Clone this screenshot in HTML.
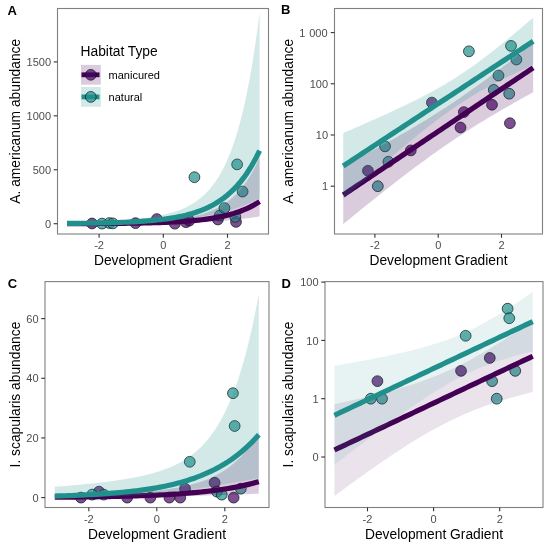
<!DOCTYPE html>
<html><head><meta charset="utf-8"><style>
html,body{margin:0;padding:0;background:#fff;}
svg{display:block;will-change:transform;}
text{font-family:"Liberation Sans",sans-serif;}
.tk{font-size:11px;fill:#4d4d4d;}
.ti{font-size:13.8px;fill:#000;}
.lg{font-size:11px;fill:#000;}
.tag{font-size:13px;font-weight:bold;fill:#000;}
</style></head><body>
<svg width="550" height="546" viewBox="0 0 550 546">
<rect width="550" height="546" fill="#fff"/>
<clipPath id="clA"><rect x="57.50" y="8.50" width="211.00" height="225.50"/></clipPath>
<g clip-path="url(#clA)">
<circle cx="92.04" cy="223.48" r="5.4" fill="rgba(73,2,98,0.7)" stroke="rgba(10,25,25,0.72)" stroke-width="1"/>
<circle cx="135.50" cy="223.16" r="5.4" fill="rgba(73,2,98,0.7)" stroke="rgba(10,25,25,0.72)" stroke-width="1"/>
<circle cx="156.88" cy="219.06" r="5.4" fill="rgba(73,2,98,0.7)" stroke="rgba(10,25,25,0.72)" stroke-width="1"/>
<circle cx="174.86" cy="223.70" r="5.4" fill="rgba(73,2,98,0.7)" stroke="rgba(10,25,25,0.72)" stroke-width="1"/>
<circle cx="185.93" cy="222.19" r="5.4" fill="rgba(73,2,98,0.7)" stroke="rgba(10,25,25,0.72)" stroke-width="1"/>
<circle cx="189.30" cy="220.68" r="5.4" fill="rgba(73,2,98,0.7)" stroke="rgba(10,25,25,0.72)" stroke-width="1"/>
<circle cx="217.87" cy="219.49" r="5.4" fill="rgba(73,2,98,0.7)" stroke="rgba(10,25,25,0.72)" stroke-width="1"/>
<circle cx="236.01" cy="221.87" r="5.4" fill="rgba(73,2,98,0.7)" stroke="rgba(10,25,25,0.72)" stroke-width="1"/>
<circle cx="102.05" cy="223.59" r="5.4" fill="rgba(33,144,140,0.7)" stroke="rgba(10,25,25,0.72)" stroke-width="1"/>
<circle cx="109.37" cy="223.05" r="5.4" fill="rgba(33,144,140,0.7)" stroke="rgba(10,25,25,0.72)" stroke-width="1"/>
<circle cx="112.81" cy="223.38" r="5.4" fill="rgba(33,144,140,0.7)" stroke="rgba(10,25,25,0.72)" stroke-width="1"/>
<circle cx="194.44" cy="177.21" r="5.4" fill="rgba(33,144,140,0.7)" stroke="rgba(10,25,25,0.72)" stroke-width="1"/>
<circle cx="219.70" cy="215.50" r="5.4" fill="rgba(33,144,140,0.7)" stroke="rgba(10,25,25,0.72)" stroke-width="1"/>
<circle cx="224.45" cy="208.06" r="5.4" fill="rgba(33,144,140,0.7)" stroke="rgba(10,25,25,0.72)" stroke-width="1"/>
<circle cx="235.30" cy="216.80" r="5.4" fill="rgba(33,144,140,0.7)" stroke="rgba(10,25,25,0.72)" stroke-width="1"/>
<circle cx="237.13" cy="164.38" r="5.4" fill="rgba(33,144,140,0.7)" stroke="rgba(10,25,25,0.72)" stroke-width="1"/>
<circle cx="242.59" cy="191.56" r="5.4" fill="rgba(33,144,140,0.7)" stroke="rgba(10,25,25,0.72)" stroke-width="1"/>
<path d="M67.00,223.43 L70.21,223.41 L73.42,223.39 L76.63,223.36 L79.84,223.34 L83.05,223.31 L86.26,223.28 L89.47,223.25 L92.68,223.21 L95.89,223.17 L99.10,223.13 L102.31,223.08 L105.52,223.03 L108.73,222.98 L111.94,222.92 L115.15,222.86 L118.36,222.79 L121.57,222.71 L124.78,222.63 L127.99,222.54 L131.20,222.44 L134.41,222.33 L137.62,222.21 L140.83,222.08 L144.04,221.93 L147.25,221.77 L150.46,221.60 L153.67,221.41 L156.88,221.19 L160.09,220.96 L163.30,220.70 L166.51,220.42 L169.72,220.10 L172.93,219.75 L176.14,219.36 L179.35,218.93 L182.56,218.45 L185.77,217.92 L188.98,217.33 L192.19,216.67 L195.40,215.93 L198.61,215.11 L201.82,214.20 L205.03,213.18 L208.24,212.03 L211.45,210.76 L214.66,209.33 L217.87,207.74 L221.08,205.95 L224.29,203.95 L227.50,201.71 L230.71,199.19 L233.92,196.37 L237.13,193.21 L240.34,189.66 L243.55,185.68 L246.76,181.20 L249.97,176.18 L253.18,170.54 L256.39,164.19 L259.60,157.06 L259.60,216.35 L256.39,216.90 L253.18,217.41 L249.97,217.89 L246.76,218.33 L243.55,218.74 L240.34,219.12 L237.13,219.47 L233.92,219.80 L230.71,220.11 L227.50,220.39 L224.29,220.66 L221.08,220.90 L217.87,221.13 L214.66,221.34 L211.45,221.53 L208.24,221.71 L205.03,221.88 L201.82,222.03 L198.61,222.18 L195.40,222.31 L192.19,222.43 L188.98,222.54 L185.77,222.64 L182.56,222.74 L179.35,222.83 L176.14,222.91 L172.93,222.98 L169.72,223.05 L166.51,223.11 L163.30,223.16 L160.09,223.22 L156.88,223.26 L153.67,223.30 L150.46,223.34 L147.25,223.38 L144.04,223.41 L140.83,223.44 L137.62,223.47 L134.41,223.49 L131.20,223.51 L127.99,223.53 L124.78,223.55 L121.57,223.56 L118.36,223.58 L115.15,223.59 L111.94,223.60 L108.73,223.61 L105.52,223.62 L102.31,223.63 L99.10,223.64 L95.89,223.64 L92.68,223.65 L89.47,223.66 L86.26,223.66 L83.05,223.66 L79.84,223.67 L76.63,223.67 L73.42,223.68 L70.21,223.68 L67.00,223.68Z" fill="rgba(68,1,84,0.2)"/>
<path d="M67.00,223.63 L70.21,223.62 L73.42,223.61 L76.63,223.60 L79.84,223.59 L83.05,223.58 L86.26,223.57 L89.47,223.56 L92.68,223.54 L95.89,223.53 L99.10,223.51 L102.31,223.49 L105.52,223.47 L108.73,223.45 L111.94,223.42 L115.15,223.40 L118.36,223.37 L121.57,223.33 L124.78,223.30 L127.99,223.26 L131.20,223.21 L134.41,223.16 L137.62,223.11 L140.83,223.05 L144.04,222.98 L147.25,222.91 L150.46,222.83 L153.67,222.75 L156.88,222.65 L160.09,222.55 L163.30,222.43 L166.51,222.31 L169.72,222.17 L172.93,222.01 L176.14,221.84 L179.35,221.66 L182.56,221.45 L185.77,221.23 L188.98,220.98 L192.19,220.71 L195.40,220.41 L198.61,220.08 L201.82,219.72 L205.03,219.32 L208.24,218.89 L211.45,218.41 L214.66,217.88 L217.87,217.29 L221.08,216.65 L224.29,215.95 L227.50,215.17 L230.71,214.32 L233.92,213.38 L237.13,212.35 L240.34,211.21 L243.55,209.96 L246.76,208.59 L249.97,207.08 L253.18,205.42 L256.39,203.59 L259.60,201.58" fill="none" stroke="rgb(68,1,84)" stroke-width="5.2"/>
<path d="M67.00,222.52 L70.21,222.44 L73.42,222.36 L76.63,222.28 L79.84,222.19 L83.05,222.09 L86.26,221.99 L89.47,221.88 L92.68,221.76 L95.89,221.64 L99.10,221.50 L102.31,221.36 L105.52,221.20 L108.73,221.04 L111.94,220.86 L115.15,220.67 L118.36,220.46 L121.57,220.24 L124.78,220.00 L127.99,219.74 L131.20,219.46 L134.41,219.16 L137.62,218.83 L140.83,218.47 L144.04,218.08 L147.25,217.66 L150.46,217.19 L153.67,216.68 L156.88,216.12 L160.09,215.50 L163.30,214.82 L166.51,214.07 L169.72,213.24 L172.93,212.31 L176.14,211.28 L179.35,210.13 L182.56,208.84 L185.77,207.39 L188.98,205.77 L192.19,203.95 L195.40,201.90 L198.61,199.60 L201.82,196.99 L205.03,194.06 L208.24,190.74 L211.45,187.00 L214.66,182.77 L217.87,177.98 L221.08,172.57 L224.29,166.45 L227.50,159.52 L230.71,151.67 L233.92,142.78 L237.13,132.72 L240.34,121.32 L243.55,108.40 L246.76,93.76 L249.97,77.17 L253.18,58.36 L256.39,37.04 L259.60,12.85 L259.60,198.36 L256.39,199.96 L253.18,201.47 L249.97,202.89 L246.76,204.24 L243.55,205.51 L240.34,206.71 L237.13,207.84 L233.92,208.91 L230.71,209.92 L227.50,210.87 L224.29,211.77 L221.08,212.62 L217.87,213.42 L214.66,214.17 L211.45,214.89 L208.24,215.56 L205.03,216.19 L201.82,216.79 L198.61,217.35 L195.40,217.87 L192.19,218.37 L188.98,218.83 L185.77,219.26 L182.56,219.66 L179.35,220.03 L176.14,220.37 L172.93,220.69 L169.72,220.98 L166.51,221.25 L163.30,221.49 L160.09,221.72 L156.88,221.92 L153.67,222.11 L150.46,222.28 L147.25,222.43 L144.04,222.57 L140.83,222.69 L137.62,222.80 L134.41,222.90 L131.20,222.99 L127.99,223.07 L124.78,223.14 L121.57,223.20 L118.36,223.26 L115.15,223.31 L111.94,223.35 L108.73,223.39 L105.52,223.43 L102.31,223.46 L99.10,223.49 L95.89,223.51 L92.68,223.53 L89.47,223.55 L86.26,223.57 L83.05,223.59 L79.84,223.60 L76.63,223.61 L73.42,223.62 L70.21,223.63 L67.00,223.64Z" fill="rgba(33,144,140,0.2)"/>
<path d="M67.00,223.43 L70.21,223.41 L73.42,223.38 L76.63,223.35 L79.84,223.31 L83.05,223.27 L86.26,223.23 L89.47,223.18 L92.68,223.13 L95.89,223.08 L99.10,223.02 L102.31,222.95 L105.52,222.88 L108.73,222.80 L111.94,222.71 L115.15,222.61 L118.36,222.50 L121.57,222.39 L124.78,222.26 L127.99,222.12 L131.20,221.96 L134.41,221.79 L137.62,221.61 L140.83,221.40 L144.04,221.18 L147.25,220.93 L150.46,220.66 L153.67,220.36 L156.88,220.03 L160.09,219.67 L163.30,219.28 L166.51,218.84 L169.72,218.37 L172.93,217.84 L176.14,217.27 L179.35,216.64 L182.56,215.95 L185.77,215.19 L188.98,214.35 L192.19,213.44 L195.40,212.43 L198.61,211.33 L201.82,210.11 L205.03,208.78 L208.24,207.32 L211.45,205.72 L214.66,203.95 L217.87,202.02 L221.08,199.90 L224.29,197.56 L227.50,195.00 L230.71,192.19 L233.92,189.10 L237.13,185.71 L240.34,181.99 L243.55,177.90 L246.76,173.41 L249.97,168.48 L253.18,163.07 L256.39,157.13 L259.60,150.61" fill="none" stroke="rgb(33,144,140)" stroke-width="5.2"/>
</g>
<rect x="57.50" y="8.50" width="211.00" height="225.50" fill="none" stroke="#808080" stroke-width="1.1"/>
<line x1="53.70" x2="57.50" y1="223.70" y2="223.70" stroke="#333" stroke-width="1.1"/>
<text x="51.10" y="227.80" class="tk" text-anchor="end">0</text>
<line x1="53.70" x2="57.50" y1="169.77" y2="169.77" stroke="#333" stroke-width="1.1"/>
<text x="51.10" y="173.87" class="tk" text-anchor="end">500</text>
<line x1="53.70" x2="57.50" y1="115.84" y2="115.84" stroke="#333" stroke-width="1.1"/>
<text x="51.10" y="119.94" class="tk" text-anchor="end">1000</text>
<line x1="53.70" x2="57.50" y1="61.91" y2="61.91" stroke="#333" stroke-width="1.1"/>
<text x="51.10" y="66.01" class="tk" text-anchor="end">1500</text>
<line x1="99.10" x2="99.10" y1="234.00" y2="237.80" stroke="#333" stroke-width="1.1"/>
<text x="99.10" y="248.80" class="tk" text-anchor="middle">-2</text>
<line x1="163.30" x2="163.30" y1="234.00" y2="237.80" stroke="#333" stroke-width="1.1"/>
<text x="163.30" y="248.80" class="tk" text-anchor="middle">0</text>
<line x1="227.50" x2="227.50" y1="234.00" y2="237.80" stroke="#333" stroke-width="1.1"/>
<text x="227.50" y="248.80" class="tk" text-anchor="middle">2</text>
<text x="163.00" y="265.00" class="ti" text-anchor="middle">Development Gradient</text>
<text transform="translate(20.30,121.25) rotate(-90)" class="ti" text-anchor="middle">A. americanum abundance</text>
<text x="7.50" y="14.60" class="tag">A</text>
<clipPath id="clB"><rect x="334.50" y="8.50" width="208.00" height="225.50"/></clipPath>
<g clip-path="url(#clB)">
<circle cx="367.94" cy="170.79" r="5.4" fill="rgba(73,2,98,0.7)" stroke="rgba(10,25,25,0.72)" stroke-width="1"/>
<circle cx="410.79" cy="150.41" r="5.4" fill="rgba(73,2,98,0.7)" stroke="rgba(10,25,25,0.72)" stroke-width="1"/>
<circle cx="431.87" cy="102.57" r="5.4" fill="rgba(73,2,98,0.7)" stroke="rgba(10,25,25,0.72)" stroke-width="1"/>
<circle cx="460.51" cy="127.52" r="5.4" fill="rgba(73,2,98,0.7)" stroke="rgba(10,25,25,0.72)" stroke-width="1"/>
<circle cx="463.84" cy="112.11" r="5.4" fill="rgba(73,2,98,0.7)" stroke="rgba(10,25,25,0.72)" stroke-width="1"/>
<circle cx="492.00" cy="104.74" r="5.4" fill="rgba(73,2,98,0.7)" stroke="rgba(10,25,25,0.72)" stroke-width="1"/>
<circle cx="509.89" cy="123.20" r="5.4" fill="rgba(73,2,98,0.7)" stroke="rgba(10,25,25,0.72)" stroke-width="1"/>
<circle cx="377.81" cy="186.20" r="5.4" fill="rgba(33,144,140,0.7)" stroke="rgba(10,25,25,0.72)" stroke-width="1"/>
<circle cx="385.03" cy="146.36" r="5.4" fill="rgba(33,144,140,0.7)" stroke="rgba(10,25,25,0.72)" stroke-width="1"/>
<circle cx="388.41" cy="161.77" r="5.4" fill="rgba(33,144,140,0.7)" stroke="rgba(10,25,25,0.72)" stroke-width="1"/>
<circle cx="468.90" cy="51.31" r="5.4" fill="rgba(33,144,140,0.7)" stroke="rgba(10,25,25,0.72)" stroke-width="1"/>
<circle cx="493.81" cy="89.90" r="5.4" fill="rgba(33,144,140,0.7)" stroke="rgba(10,25,25,0.72)" stroke-width="1"/>
<circle cx="498.49" cy="75.54" r="5.4" fill="rgba(33,144,140,0.7)" stroke="rgba(10,25,25,0.72)" stroke-width="1"/>
<circle cx="509.19" cy="93.72" r="5.4" fill="rgba(33,144,140,0.7)" stroke="rgba(10,25,25,0.72)" stroke-width="1"/>
<circle cx="511.00" cy="45.89" r="5.4" fill="rgba(33,144,140,0.7)" stroke="rgba(10,25,25,0.72)" stroke-width="1"/>
<circle cx="516.38" cy="59.52" r="5.4" fill="rgba(33,144,140,0.7)" stroke="rgba(10,25,25,0.72)" stroke-width="1"/>
<path d="M343.25,165.94 L346.41,164.30 L349.58,162.65 L352.75,160.99 L355.91,159.33 L359.07,157.66 L362.24,155.98 L365.40,154.29 L368.57,152.60 L371.74,150.90 L374.90,149.19 L378.06,147.47 L381.23,145.73 L384.39,143.99 L387.56,142.24 L390.73,140.48 L393.89,138.70 L397.06,136.92 L400.22,135.12 L403.38,133.30 L406.55,131.47 L409.71,129.63 L412.88,127.77 L416.04,125.89 L419.21,124.00 L422.38,122.09 L425.54,120.16 L428.70,118.22 L431.87,116.25 L435.03,114.27 L438.20,112.27 L441.37,110.24 L444.53,108.20 L447.69,106.13 L450.86,104.05 L454.02,101.94 L457.19,99.81 L460.36,97.67 L463.52,95.50 L466.69,93.31 L469.85,91.10 L473.01,88.87 L476.18,86.62 L479.34,84.35 L482.51,82.06 L485.67,79.75 L488.84,77.42 L492.00,75.08 L495.17,72.72 L498.33,70.35 L501.50,67.96 L504.66,65.55 L507.83,63.13 L511.00,60.69 L514.16,58.25 L517.33,55.78 L520.49,53.31 L523.65,50.83 L526.82,48.33 L529.99,45.82 L533.15,43.31 L533.15,92.34 L529.99,94.07 L526.82,95.80 L523.65,97.54 L520.49,99.30 L517.33,101.06 L514.16,102.84 L511.00,104.63 L507.83,106.44 L504.66,108.26 L501.50,110.09 L498.33,111.94 L495.17,113.80 L492.00,115.68 L488.84,117.58 L485.67,119.49 L482.51,121.42 L479.34,123.37 L476.18,125.34 L473.01,127.33 L469.85,129.34 L466.69,131.37 L463.52,133.42 L460.36,135.49 L457.19,137.58 L454.02,139.69 L450.86,141.83 L447.69,143.98 L444.53,146.16 L441.37,148.35 L438.20,150.57 L435.03,152.80 L431.87,155.06 L428.70,157.33 L425.54,159.63 L422.38,161.94 L419.21,164.27 L416.04,166.61 L412.88,168.98 L409.71,171.36 L406.55,173.75 L403.38,176.16 L400.22,178.59 L397.06,181.03 L393.89,183.48 L390.73,185.94 L387.56,188.42 L384.39,190.91 L381.23,193.41 L378.06,195.91 L374.90,198.43 L371.74,200.96 L368.57,203.50 L365.40,206.05 L362.24,208.60 L359.07,211.16 L355.91,213.73 L352.75,216.31 L349.58,218.89 L346.41,221.48 L343.25,224.07Z" fill="rgba(68,1,84,0.2)"/>
<path d="M343.25,195.01 L346.41,192.89 L349.58,190.77 L352.75,188.65 L355.91,186.53 L359.07,184.41 L362.24,182.29 L365.40,180.17 L368.57,178.05 L371.74,175.93 L374.90,173.81 L378.06,171.69 L381.23,169.57 L384.39,167.45 L387.56,165.33 L390.73,163.21 L393.89,161.09 L397.06,158.97 L400.22,156.85 L403.38,154.73 L406.55,152.61 L409.71,150.49 L412.88,148.37 L416.04,146.25 L419.21,144.13 L422.38,142.01 L425.54,139.89 L428.70,137.78 L431.87,135.66 L435.03,133.54 L438.20,131.42 L441.37,129.30 L444.53,127.18 L447.69,125.06 L450.86,122.94 L454.02,120.82 L457.19,118.70 L460.36,116.58 L463.52,114.46 L466.69,112.34 L469.85,110.22 L473.01,108.10 L476.18,105.98 L479.34,103.86 L482.51,101.74 L485.67,99.62 L488.84,97.50 L492.00,95.38 L495.17,93.26 L498.33,91.14 L501.50,89.02 L504.66,86.90 L507.83,84.78 L511.00,82.66 L514.16,80.54 L517.33,78.42 L520.49,76.30 L523.65,74.18 L526.82,72.06 L529.99,69.95 L533.15,67.83" fill="none" stroke="rgb(68,1,84)" stroke-width="5.2"/>
<path d="M343.25,132.96 L346.41,131.61 L349.58,130.25 L352.75,128.88 L355.91,127.51 L359.07,126.14 L362.24,124.76 L365.40,123.37 L368.57,121.98 L371.74,120.58 L374.90,119.17 L378.06,117.76 L381.23,116.34 L384.39,114.91 L387.56,113.47 L390.73,112.01 L393.89,110.55 L397.06,109.08 L400.22,107.59 L403.38,106.08 L406.55,104.57 L409.71,103.03 L412.88,101.47 L416.04,99.90 L419.21,98.30 L422.38,96.68 L425.54,95.03 L428.70,93.35 L431.87,91.65 L435.03,89.91 L438.20,88.14 L441.37,86.33 L444.53,84.48 L447.69,82.59 L450.86,80.66 L454.02,78.69 L457.19,76.67 L460.36,74.61 L463.52,72.50 L466.69,70.35 L469.85,68.16 L473.01,65.92 L476.18,63.64 L479.34,61.32 L482.51,58.96 L485.67,56.57 L488.84,54.15 L492.00,51.69 L495.17,49.20 L498.33,46.68 L501.50,44.14 L504.66,41.58 L507.83,38.99 L511.00,36.38 L514.16,33.76 L517.33,31.12 L520.49,28.46 L523.65,25.79 L526.82,23.10 L529.99,20.40 L533.15,17.70 L533.15,64.81 L529.99,66.26 L526.82,67.72 L523.65,69.19 L520.49,70.68 L517.33,72.18 L514.16,73.69 L511.00,75.22 L507.83,76.77 L504.66,78.35 L501.50,79.94 L498.33,81.55 L495.17,83.20 L492.00,84.87 L488.84,86.56 L485.67,88.30 L482.51,90.06 L479.34,91.86 L476.18,93.70 L473.01,95.58 L469.85,97.50 L466.69,99.46 L463.52,101.47 L460.36,103.52 L457.19,105.61 L454.02,107.75 L450.86,109.94 L447.69,112.17 L444.53,114.44 L441.37,116.75 L438.20,119.09 L435.03,121.48 L431.87,123.90 L428.70,126.35 L425.54,128.83 L422.38,131.34 L419.21,133.87 L416.04,136.43 L412.88,139.01 L409.71,141.62 L406.55,144.24 L403.38,146.88 L400.22,149.53 L397.06,152.20 L393.89,154.88 L390.73,157.58 L387.56,160.28 L384.39,163.00 L381.23,165.73 L378.06,168.46 L374.90,171.21 L371.74,173.96 L368.57,176.72 L365.40,179.48 L362.24,182.25 L359.07,185.03 L355.91,187.81 L352.75,190.60 L349.58,193.39 L346.41,196.19 L343.25,198.99Z" fill="rgba(33,144,140,0.2)"/>
<path d="M343.25,165.98 L346.41,163.90 L349.58,161.82 L352.75,159.74 L355.91,157.66 L359.07,155.58 L362.24,153.50 L365.40,151.42 L368.57,149.35 L371.74,147.27 L374.90,145.19 L378.06,143.11 L381.23,141.03 L384.39,138.95 L387.56,136.87 L390.73,134.80 L393.89,132.72 L397.06,130.64 L400.22,128.56 L403.38,126.48 L406.55,124.40 L409.71,122.32 L412.88,120.24 L416.04,118.17 L419.21,116.09 L422.38,114.01 L425.54,111.93 L428.70,109.85 L431.87,107.77 L435.03,105.69 L438.20,103.61 L441.37,101.54 L444.53,99.46 L447.69,97.38 L450.86,95.30 L454.02,93.22 L457.19,91.14 L460.36,89.06 L463.52,86.98 L466.69,84.91 L469.85,82.83 L473.01,80.75 L476.18,78.67 L479.34,76.59 L482.51,74.51 L485.67,72.43 L488.84,70.35 L492.00,68.28 L495.17,66.20 L498.33,64.12 L501.50,62.04 L504.66,59.96 L507.83,57.88 L511.00,55.80 L514.16,53.73 L517.33,51.65 L520.49,49.57 L523.65,47.49 L526.82,45.41 L529.99,43.33 L533.15,41.25" fill="none" stroke="rgb(33,144,140)" stroke-width="5.2"/>
</g>
<rect x="334.50" y="8.50" width="208.00" height="225.50" fill="none" stroke="#808080" stroke-width="1.1"/>
<line x1="330.70" x2="334.50" y1="186.20" y2="186.20" stroke="#333" stroke-width="1.1"/>
<text x="328.10" y="190.30" class="tk" text-anchor="end">1</text>
<line x1="330.70" x2="334.50" y1="135.00" y2="135.00" stroke="#333" stroke-width="1.1"/>
<text x="328.10" y="139.10" class="tk" text-anchor="end">10</text>
<line x1="330.70" x2="334.50" y1="83.80" y2="83.80" stroke="#333" stroke-width="1.1"/>
<text x="328.10" y="87.90" class="tk" text-anchor="end">100</text>
<line x1="330.70" x2="334.50" y1="32.60" y2="32.60" stroke="#333" stroke-width="1.1"/>
<text x="327.60" y="36.70" class="tk" text-anchor="end">1<tspan dx="0.9"> </tspan>000</text>
<line x1="374.90" x2="374.90" y1="234.00" y2="237.80" stroke="#333" stroke-width="1.1"/>
<text x="374.90" y="248.80" class="tk" text-anchor="middle">-2</text>
<line x1="438.20" x2="438.20" y1="234.00" y2="237.80" stroke="#333" stroke-width="1.1"/>
<text x="438.20" y="248.80" class="tk" text-anchor="middle">0</text>
<line x1="501.50" x2="501.50" y1="234.00" y2="237.80" stroke="#333" stroke-width="1.1"/>
<text x="501.50" y="248.80" class="tk" text-anchor="middle">2</text>
<text x="438.50" y="265.00" class="ti" text-anchor="middle">Development Gradient</text>
<text transform="translate(293.30,121.25) rotate(-90)" class="ti" text-anchor="middle">A. americanum abundance</text>
<text x="281.00" y="14.30" class="tag">B</text>
<clipPath id="clC"><rect x="45.00" y="281.60" width="224.00" height="225.90"/></clipPath>
<g clip-path="url(#clC)">
<circle cx="80.98" cy="497.60" r="5.4" fill="rgba(73,2,98,0.7)" stroke="rgba(10,25,25,0.72)" stroke-width="1"/>
<circle cx="99.00" cy="491.63" r="5.4" fill="rgba(73,2,98,0.7)" stroke="rgba(10,25,25,0.72)" stroke-width="1"/>
<circle cx="127.22" cy="497.60" r="5.4" fill="rgba(73,2,98,0.7)" stroke="rgba(10,25,25,0.72)" stroke-width="1"/>
<circle cx="150.34" cy="497.60" r="5.4" fill="rgba(73,2,98,0.7)" stroke="rgba(10,25,25,0.72)" stroke-width="1"/>
<circle cx="169.38" cy="497.60" r="5.4" fill="rgba(73,2,98,0.7)" stroke="rgba(10,25,25,0.72)" stroke-width="1"/>
<circle cx="180.26" cy="497.60" r="5.4" fill="rgba(73,2,98,0.7)" stroke="rgba(10,25,25,0.72)" stroke-width="1"/>
<circle cx="185.02" cy="488.65" r="5.4" fill="rgba(73,2,98,0.7)" stroke="rgba(10,25,25,0.72)" stroke-width="1"/>
<circle cx="214.60" cy="482.69" r="5.4" fill="rgba(73,2,98,0.7)" stroke="rgba(10,25,25,0.72)" stroke-width="1"/>
<circle cx="233.64" cy="497.60" r="5.4" fill="rgba(73,2,98,0.7)" stroke="rgba(10,25,25,0.72)" stroke-width="1"/>
<circle cx="92.20" cy="494.62" r="5.4" fill="rgba(33,144,140,0.7)" stroke="rgba(10,25,25,0.72)" stroke-width="1"/>
<circle cx="103.76" cy="494.62" r="5.4" fill="rgba(33,144,140,0.7)" stroke="rgba(10,25,25,0.72)" stroke-width="1"/>
<circle cx="189.78" cy="461.80" r="5.4" fill="rgba(33,144,140,0.7)" stroke="rgba(10,25,25,0.72)" stroke-width="1"/>
<circle cx="216.98" cy="491.63" r="5.4" fill="rgba(33,144,140,0.7)" stroke="rgba(10,25,25,0.72)" stroke-width="1"/>
<circle cx="221.74" cy="494.62" r="5.4" fill="rgba(33,144,140,0.7)" stroke="rgba(10,25,25,0.72)" stroke-width="1"/>
<circle cx="232.96" cy="393.20" r="5.4" fill="rgba(33,144,140,0.7)" stroke="rgba(10,25,25,0.72)" stroke-width="1"/>
<circle cx="234.66" cy="426.01" r="5.4" fill="rgba(33,144,140,0.7)" stroke="rgba(10,25,25,0.72)" stroke-width="1"/>
<circle cx="240.78" cy="488.65" r="5.4" fill="rgba(33,144,140,0.7)" stroke="rgba(10,25,25,0.72)" stroke-width="1"/>
<path d="M54.80,495.19 L58.20,495.12 L61.60,495.05 L65.00,494.98 L68.40,494.91 L71.80,494.83 L75.20,494.75 L78.60,494.66 L82.00,494.57 L85.40,494.48 L88.80,494.38 L92.20,494.28 L95.60,494.17 L99.00,494.06 L102.40,493.94 L105.80,493.81 L109.20,493.68 L112.60,493.54 L116.00,493.39 L119.40,493.23 L122.80,493.06 L126.20,492.88 L129.60,492.68 L133.00,492.48 L136.40,492.26 L139.80,492.02 L143.20,491.76 L146.60,491.49 L150.00,491.19 L153.40,490.87 L156.80,490.52 L160.20,490.14 L163.60,489.73 L167.00,489.28 L170.40,488.79 L173.80,488.26 L177.20,487.68 L180.60,487.04 L184.00,486.35 L187.40,485.58 L190.80,484.75 L194.20,483.83 L197.60,482.82 L201.00,481.72 L204.40,480.50 L207.80,479.17 L211.20,477.70 L214.60,476.09 L218.00,474.31 L221.40,472.36 L224.80,470.21 L228.20,467.84 L231.60,465.23 L235.00,462.36 L238.40,459.20 L241.80,455.72 L245.20,451.89 L248.60,447.66 L252.00,443.00 L255.40,437.86 L258.80,432.20 L258.80,493.71 L255.40,493.84 L252.00,493.96 L248.60,494.08 L245.20,494.20 L241.80,494.32 L238.40,494.44 L235.00,494.56 L231.60,494.67 L228.20,494.79 L224.80,494.90 L221.40,495.01 L218.00,495.12 L214.60,495.22 L211.20,495.33 L207.80,495.43 L204.40,495.54 L201.00,495.64 L197.60,495.73 L194.20,495.83 L190.80,495.92 L187.40,496.02 L184.00,496.10 L180.60,496.19 L177.20,496.27 L173.80,496.36 L170.40,496.43 L167.00,496.51 L163.60,496.58 L160.20,496.65 L156.80,496.71 L153.40,496.78 L150.00,496.84 L146.60,496.89 L143.20,496.94 L139.80,496.99 L136.40,497.04 L133.00,497.08 L129.60,497.12 L126.20,497.16 L122.80,497.20 L119.40,497.23 L116.00,497.26 L112.60,497.29 L109.20,497.32 L105.80,497.34 L102.40,497.36 L99.00,497.38 L95.60,497.40 L92.20,497.42 L88.80,497.43 L85.40,497.45 L82.00,497.46 L78.60,497.48 L75.20,497.49 L71.80,497.50 L68.40,497.51 L65.00,497.51 L61.60,497.52 L58.20,497.53 L54.80,497.54Z" fill="rgba(68,1,84,0.2)"/>
<path d="M54.80,497.21 L58.20,497.18 L61.60,497.16 L65.00,497.13 L68.40,497.10 L71.80,497.06 L75.20,497.03 L78.60,496.99 L82.00,496.96 L85.40,496.91 L88.80,496.87 L92.20,496.82 L95.60,496.78 L99.00,496.72 L102.40,496.67 L105.80,496.61 L109.20,496.54 L112.60,496.48 L116.00,496.41 L119.40,496.33 L122.80,496.25 L126.20,496.16 L129.60,496.07 L133.00,495.97 L136.40,495.87 L139.80,495.76 L143.20,495.64 L146.60,495.52 L150.00,495.39 L153.40,495.25 L156.80,495.10 L160.20,494.94 L163.60,494.77 L167.00,494.59 L170.40,494.39 L173.80,494.19 L177.20,493.97 L180.60,493.74 L184.00,493.50 L187.40,493.24 L190.80,492.96 L194.20,492.66 L197.60,492.35 L201.00,492.01 L204.40,491.66 L207.80,491.28 L211.20,490.88 L214.60,490.45 L218.00,490.00 L221.40,489.51 L224.80,489.00 L228.20,488.45 L231.60,487.87 L235.00,487.25 L238.40,486.59 L241.80,485.89 L245.20,485.14 L248.60,484.35 L252.00,483.51 L255.40,482.61 L258.80,481.65" fill="none" stroke="rgb(68,1,84)" stroke-width="5.2"/>
<path d="M54.80,486.67 L58.20,486.42 L61.60,486.17 L65.00,485.90 L68.40,485.63 L71.80,485.35 L75.20,485.06 L78.60,484.75 L82.00,484.44 L85.40,484.12 L88.80,483.78 L92.20,483.43 L95.60,483.07 L99.00,482.69 L102.40,482.30 L105.80,481.88 L109.20,481.45 L112.60,481.00 L116.00,480.53 L119.40,480.03 L122.80,479.51 L126.20,478.95 L129.60,478.37 L133.00,477.75 L136.40,477.09 L139.80,476.39 L143.20,475.65 L146.60,474.85 L150.00,473.99 L153.40,473.07 L156.80,472.08 L160.20,471.00 L163.60,469.84 L167.00,468.58 L170.40,467.20 L173.80,465.70 L177.20,464.06 L180.60,462.26 L184.00,460.28 L187.40,458.11 L190.80,455.71 L194.20,453.07 L197.60,450.16 L201.00,446.94 L204.40,443.38 L207.80,439.44 L211.20,435.08 L214.60,430.26 L218.00,424.93 L221.40,419.03 L224.80,412.51 L228.20,405.28 L231.60,397.29 L235.00,388.45 L238.40,378.66 L241.80,367.84 L245.20,355.86 L248.60,342.61 L252.00,327.95 L255.40,311.74 L258.80,293.79 L258.80,478.28 L255.40,478.87 L252.00,479.46 L248.60,480.05 L245.20,480.64 L241.80,481.23 L238.40,481.81 L235.00,482.39 L231.60,482.97 L228.20,483.55 L224.80,484.13 L221.40,484.70 L218.00,485.28 L214.60,485.84 L211.20,486.41 L207.80,486.97 L204.40,487.52 L201.00,488.06 L197.60,488.60 L194.20,489.12 L190.80,489.63 L187.40,490.13 L184.00,490.61 L180.60,491.08 L177.20,491.53 L173.80,491.96 L170.40,492.37 L167.00,492.75 L163.60,493.12 L160.20,493.47 L156.80,493.79 L153.40,494.10 L150.00,494.39 L146.60,494.65 L143.20,494.90 L139.80,495.13 L136.40,495.34 L133.00,495.54 L129.60,495.72 L126.20,495.88 L122.80,496.04 L119.40,496.18 L116.00,496.31 L112.60,496.42 L109.20,496.53 L105.80,496.63 L102.40,496.72 L99.00,496.80 L95.60,496.88 L92.20,496.94 L88.80,497.00 L85.40,497.06 L82.00,497.11 L78.60,497.16 L75.20,497.20 L71.80,497.24 L68.40,497.27 L65.00,497.30 L61.60,497.33 L58.20,497.36 L54.80,497.38Z" fill="rgba(33,144,140,0.2)"/>
<path d="M54.80,496.05 L58.20,495.95 L61.60,495.85 L65.00,495.74 L68.40,495.62 L71.80,495.49 L75.20,495.36 L78.60,495.22 L82.00,495.06 L85.40,494.90 L88.80,494.73 L92.20,494.55 L95.60,494.35 L99.00,494.15 L102.40,493.93 L105.80,493.69 L109.20,493.45 L112.60,493.18 L116.00,492.90 L119.40,492.60 L122.80,492.28 L126.20,491.94 L129.60,491.58 L133.00,491.20 L136.40,490.79 L139.80,490.36 L143.20,489.90 L146.60,489.41 L150.00,488.89 L153.40,488.33 L156.80,487.75 L160.20,487.12 L163.60,486.45 L167.00,485.74 L170.40,484.99 L173.80,484.18 L177.20,483.33 L180.60,482.42 L184.00,481.45 L187.40,480.43 L190.80,479.33 L194.20,478.17 L197.60,476.93 L201.00,475.62 L204.40,474.22 L207.80,472.73 L211.20,471.15 L214.60,469.46 L218.00,467.67 L221.40,465.77 L224.80,463.74 L228.20,461.59 L231.60,459.30 L235.00,456.86 L238.40,454.26 L241.80,451.51 L245.20,448.57 L248.60,445.45 L252.00,442.13 L255.40,438.60 L258.80,434.84" fill="none" stroke="rgb(33,144,140)" stroke-width="5.2"/>
</g>
<rect x="45.00" y="281.60" width="224.00" height="225.90" fill="none" stroke="#808080" stroke-width="1.1"/>
<line x1="41.20" x2="45.00" y1="497.60" y2="497.60" stroke="#333" stroke-width="1.1"/>
<text x="38.60" y="501.70" class="tk" text-anchor="end">0</text>
<line x1="41.20" x2="45.00" y1="437.94" y2="437.94" stroke="#333" stroke-width="1.1"/>
<text x="38.60" y="442.04" class="tk" text-anchor="end">20</text>
<line x1="41.20" x2="45.00" y1="378.28" y2="378.28" stroke="#333" stroke-width="1.1"/>
<text x="38.60" y="382.38" class="tk" text-anchor="end">40</text>
<line x1="41.20" x2="45.00" y1="318.62" y2="318.62" stroke="#333" stroke-width="1.1"/>
<text x="38.60" y="322.72" class="tk" text-anchor="end">60</text>
<line x1="88.80" x2="88.80" y1="507.50" y2="511.30" stroke="#333" stroke-width="1.1"/>
<text x="88.80" y="522.70" class="tk" text-anchor="middle">-2</text>
<line x1="156.80" x2="156.80" y1="507.50" y2="511.30" stroke="#333" stroke-width="1.1"/>
<text x="156.80" y="522.70" class="tk" text-anchor="middle">0</text>
<line x1="224.80" x2="224.80" y1="507.50" y2="511.30" stroke="#333" stroke-width="1.1"/>
<text x="224.80" y="522.70" class="tk" text-anchor="middle">2</text>
<text x="157.00" y="538.70" class="ti" text-anchor="middle">Development Gradient</text>
<text transform="translate(19.80,394.55) rotate(-90)" class="ti" text-anchor="middle">I. scapularis abundance</text>
<text x="7.80" y="288.00" class="tag">C</text>
<clipPath id="clD"><rect x="325.00" y="281.60" width="218.00" height="225.90"/></clipPath>
<g clip-path="url(#clD)">
<circle cx="377.42" cy="381.15" r="5.4" fill="rgba(73,2,98,0.7)" stroke="rgba(10,25,25,0.72)" stroke-width="1"/>
<circle cx="461.03" cy="370.88" r="5.4" fill="rgba(73,2,98,0.7)" stroke="rgba(10,25,25,0.72)" stroke-width="1"/>
<circle cx="489.79" cy="357.95" r="5.4" fill="rgba(73,2,98,0.7)" stroke="rgba(10,25,25,0.72)" stroke-width="1"/>
<circle cx="370.81" cy="398.70" r="5.4" fill="rgba(33,144,140,0.7)" stroke="rgba(10,25,25,0.72)" stroke-width="1"/>
<circle cx="382.04" cy="398.70" r="5.4" fill="rgba(33,144,140,0.7)" stroke="rgba(10,25,25,0.72)" stroke-width="1"/>
<circle cx="465.66" cy="335.78" r="5.4" fill="rgba(33,144,140,0.7)" stroke="rgba(10,25,25,0.72)" stroke-width="1"/>
<circle cx="492.10" cy="381.15" r="5.4" fill="rgba(33,144,140,0.7)" stroke="rgba(10,25,25,0.72)" stroke-width="1"/>
<circle cx="496.73" cy="398.70" r="5.4" fill="rgba(33,144,140,0.7)" stroke="rgba(10,25,25,0.72)" stroke-width="1"/>
<circle cx="507.63" cy="308.68" r="5.4" fill="rgba(33,144,140,0.7)" stroke="rgba(10,25,25,0.72)" stroke-width="1"/>
<circle cx="509.28" cy="318.23" r="5.4" fill="rgba(33,144,140,0.7)" stroke="rgba(10,25,25,0.72)" stroke-width="1"/>
<circle cx="515.23" cy="370.88" r="5.4" fill="rgba(33,144,140,0.7)" stroke="rgba(10,25,25,0.72)" stroke-width="1"/>
<path d="M334.45,404.08 L337.76,403.39 L341.06,402.69 L344.37,401.99 L347.67,401.27 L350.98,400.55 L354.28,399.82 L357.59,399.07 L360.89,398.32 L364.20,397.55 L367.50,396.77 L370.81,395.97 L374.11,395.17 L377.42,394.34 L380.72,393.50 L384.03,392.64 L387.33,391.77 L390.64,390.87 L393.94,389.96 L397.25,389.02 L400.55,388.05 L403.86,387.07 L407.16,386.05 L410.47,385.01 L413.77,383.94 L417.08,382.84 L420.38,381.70 L423.69,380.54 L426.99,379.33 L430.30,378.09 L433.60,376.81 L436.91,375.49 L440.21,374.13 L443.52,372.73 L446.82,371.29 L450.12,369.80 L453.43,368.27 L456.74,366.70 L460.04,365.08 L463.35,363.42 L466.65,361.72 L469.95,359.97 L473.26,358.18 L476.56,356.36 L479.87,354.49 L483.18,352.59 L486.48,350.65 L489.79,348.67 L493.09,346.67 L496.40,344.63 L499.70,342.56 L503.00,340.46 L506.31,338.33 L509.62,336.18 L512.92,334.01 L516.23,331.81 L519.53,329.59 L522.84,327.35 L526.14,325.09 L529.45,322.82 L532.75,320.52 L532.75,391.99 L529.45,392.82 L526.14,393.67 L522.84,394.54 L519.53,395.42 L516.23,396.33 L512.92,397.26 L509.62,398.21 L506.31,399.18 L503.00,400.18 L499.70,401.21 L496.40,402.26 L493.09,403.35 L489.79,404.46 L486.48,405.62 L483.18,406.80 L479.87,408.02 L476.56,409.28 L473.26,410.58 L469.95,411.92 L466.65,413.30 L463.35,414.72 L460.04,416.18 L456.74,417.69 L453.43,419.24 L450.12,420.84 L446.82,422.47 L443.52,424.16 L440.21,425.88 L436.91,427.64 L433.60,429.45 L430.30,431.30 L426.99,433.18 L423.69,435.10 L420.38,437.06 L417.08,439.05 L413.77,441.07 L410.47,443.12 L407.16,445.21 L403.86,447.32 L400.55,449.46 L397.25,451.62 L393.94,453.80 L390.64,456.01 L387.33,458.24 L384.03,460.49 L380.72,462.76 L377.42,465.04 L374.11,467.34 L370.81,469.66 L367.50,471.99 L364.20,474.34 L360.89,476.69 L357.59,479.06 L354.28,481.44 L350.98,483.83 L347.67,486.23 L344.37,488.65 L341.06,491.06 L337.76,493.49 L334.45,495.93Z" fill="rgba(68,1,84,0.11)"/>
<path d="M334.45,450.00 L337.76,448.44 L341.06,446.88 L344.37,445.32 L347.67,443.75 L350.98,442.19 L354.28,440.63 L357.59,439.07 L360.89,437.50 L364.20,435.94 L367.50,434.38 L370.81,432.82 L374.11,431.25 L377.42,429.69 L380.72,428.13 L384.03,426.57 L387.33,425.00 L390.64,423.44 L393.94,421.88 L397.25,420.32 L400.55,418.76 L403.86,417.19 L407.16,415.63 L410.47,414.07 L413.77,412.51 L417.08,410.94 L420.38,409.38 L423.69,407.82 L426.99,406.26 L430.30,404.69 L433.60,403.13 L436.91,401.57 L440.21,400.01 L443.52,398.44 L446.82,396.88 L450.12,395.32 L453.43,393.76 L456.74,392.19 L460.04,390.63 L463.35,389.07 L466.65,387.51 L469.95,385.94 L473.26,384.38 L476.56,382.82 L479.87,381.26 L483.18,379.69 L486.48,378.13 L489.79,376.57 L493.09,375.01 L496.40,373.44 L499.70,371.88 L503.00,370.32 L506.31,368.76 L509.62,367.19 L512.92,365.63 L516.23,364.07 L519.53,362.51 L522.84,360.94 L526.14,359.38 L529.45,357.82 L532.75,356.26" fill="none" stroke="rgb(68,1,84)" stroke-width="5.2"/>
<path d="M334.45,365.82 L337.76,365.25 L341.06,364.68 L344.37,364.10 L347.67,363.52 L350.98,362.93 L354.28,362.33 L357.59,361.73 L360.89,361.12 L364.20,360.51 L367.50,359.88 L370.81,359.25 L374.11,358.61 L377.42,357.96 L380.72,357.30 L384.03,356.63 L387.33,355.94 L390.64,355.24 L393.94,354.53 L397.25,353.80 L400.55,353.06 L403.86,352.30 L407.16,351.51 L410.47,350.71 L413.77,349.89 L417.08,349.04 L420.38,348.16 L423.69,347.26 L426.99,346.32 L430.30,345.35 L433.60,344.35 L436.91,343.31 L440.21,342.22 L443.52,341.10 L446.82,339.92 L450.12,338.70 L453.43,337.43 L456.74,336.11 L460.04,334.73 L463.35,333.30 L466.65,331.81 L469.95,330.26 L473.26,328.65 L476.56,326.99 L479.87,325.27 L483.18,323.49 L486.48,321.67 L489.79,319.79 L493.09,317.86 L496.40,315.88 L499.70,313.86 L503.00,311.80 L506.31,309.69 L509.62,307.55 L512.92,305.38 L516.23,303.18 L519.53,300.94 L522.84,298.68 L526.14,296.39 L529.45,294.08 L532.75,291.74 L532.75,351.39 L529.45,352.18 L526.14,353.00 L522.84,353.84 L519.53,354.70 L516.23,355.59 L512.92,356.51 L509.62,357.46 L506.31,358.44 L503.00,359.47 L499.70,360.53 L496.40,361.63 L493.09,362.78 L489.79,363.98 L486.48,365.22 L483.18,366.52 L479.87,367.87 L476.56,369.27 L473.26,370.73 L469.95,372.25 L466.65,373.83 L463.35,375.46 L460.04,377.16 L456.74,378.90 L453.43,380.70 L450.12,382.56 L446.82,384.46 L443.52,386.41 L440.21,388.41 L436.91,390.45 L433.60,392.54 L430.30,394.66 L426.99,396.81 L423.69,399.00 L420.38,401.22 L417.08,403.47 L413.77,405.75 L410.47,408.05 L407.16,410.37 L403.86,412.71 L400.55,415.08 L397.25,417.46 L393.94,419.85 L390.64,422.27 L387.33,424.69 L384.03,427.13 L380.72,429.58 L377.42,432.05 L374.11,434.52 L370.81,437.01 L367.50,439.50 L364.20,442.00 L360.89,444.51 L357.59,447.02 L354.28,449.55 L350.98,452.08 L347.67,454.61 L344.37,457.15 L341.06,459.70 L337.76,462.25 L334.45,464.81Z" fill="rgba(33,144,140,0.11)"/>
<path d="M334.45,415.32 L337.76,413.75 L341.06,412.19 L344.37,410.63 L347.67,409.07 L350.98,407.50 L354.28,405.94 L357.59,404.38 L360.89,402.82 L364.20,401.25 L367.50,399.69 L370.81,398.13 L374.11,396.57 L377.42,395.00 L380.72,393.44 L384.03,391.88 L387.33,390.32 L390.64,388.75 L393.94,387.19 L397.25,385.63 L400.55,384.07 L403.86,382.50 L407.16,380.94 L410.47,379.38 L413.77,377.82 L417.08,376.25 L420.38,374.69 L423.69,373.13 L426.99,371.57 L430.30,370.00 L433.60,368.44 L436.91,366.88 L440.21,365.32 L443.52,363.75 L446.82,362.19 L450.12,360.63 L453.43,359.07 L456.74,357.51 L460.04,355.94 L463.35,354.38 L466.65,352.82 L469.95,351.26 L473.26,349.69 L476.56,348.13 L479.87,346.57 L483.18,345.01 L486.48,343.44 L489.79,341.88 L493.09,340.32 L496.40,338.76 L499.70,337.19 L503.00,335.63 L506.31,334.07 L509.62,332.51 L512.92,330.94 L516.23,329.38 L519.53,327.82 L522.84,326.26 L526.14,324.69 L529.45,323.13 L532.75,321.57" fill="none" stroke="rgb(33,144,140)" stroke-width="5.2"/>
</g>
<rect x="325.00" y="281.60" width="218.00" height="225.90" fill="none" stroke="#808080" stroke-width="1.1"/>
<line x1="321.20" x2="325.00" y1="457.00" y2="457.00" stroke="#333" stroke-width="1.1"/>
<text x="318.60" y="461.10" class="tk" text-anchor="end">0</text>
<line x1="321.20" x2="325.00" y1="398.70" y2="398.70" stroke="#333" stroke-width="1.1"/>
<text x="318.60" y="402.80" class="tk" text-anchor="end">1</text>
<line x1="321.20" x2="325.00" y1="340.40" y2="340.40" stroke="#333" stroke-width="1.1"/>
<text x="318.60" y="344.50" class="tk" text-anchor="end">10</text>
<line x1="321.20" x2="325.00" y1="282.10" y2="282.10" stroke="#333" stroke-width="1.1"/>
<text x="318.60" y="286.20" class="tk" text-anchor="end">100</text>
<line x1="367.50" x2="367.50" y1="507.50" y2="511.30" stroke="#333" stroke-width="1.1"/>
<text x="367.50" y="522.70" class="tk" text-anchor="middle">-2</text>
<line x1="433.60" x2="433.60" y1="507.50" y2="511.30" stroke="#333" stroke-width="1.1"/>
<text x="433.60" y="522.70" class="tk" text-anchor="middle">0</text>
<line x1="499.70" x2="499.70" y1="507.50" y2="511.30" stroke="#333" stroke-width="1.1"/>
<text x="499.70" y="522.70" class="tk" text-anchor="middle">2</text>
<text x="434.00" y="538.70" class="ti" text-anchor="middle">Development Gradient</text>
<text transform="translate(293.30,394.55) rotate(-90)" class="ti" text-anchor="middle">I. scapularis abundance</text>
<text x="281.50" y="288.00" class="tag">D</text>
<text x="80.5" y="55.6" class="ti">Habitat Type</text>
<rect x="81" y="64.90" width="19.8" height="19.8" fill="rgba(68,1,84,0.2)"/>
<line x1="81.5" x2="99.5" y1="74.80" y2="74.80" stroke="rgb(68,1,84)" stroke-width="4.8"/>
<circle cx="90.8" cy="74.80" r="5.4" fill="rgba(73,2,98,0.7)" stroke="rgba(10,25,25,0.72)" stroke-width="1"/>
<text x="108.6" y="78.80" class="lg">manicured</text>
<rect x="81" y="87.00" width="19.8" height="19.8" fill="rgba(33,144,140,0.2)"/>
<line x1="81.5" x2="99.5" y1="96.90" y2="96.90" stroke="rgb(33,144,140)" stroke-width="4.8"/>
<circle cx="90.8" cy="96.90" r="5.4" fill="rgba(33,144,140,0.7)" stroke="rgba(10,25,25,0.72)" stroke-width="1"/>
<text x="108.6" y="100.90" class="lg">natural</text>
</svg></body></html>
